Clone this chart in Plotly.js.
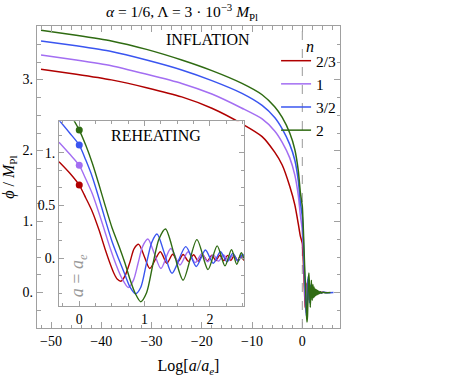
<!DOCTYPE html>
<html>
<head>
<meta charset="utf-8">
<script src="https://cdn.plot.ly/plotly-3.0.1.min.js"></script>
<style>html,body{margin:0;padding:0;background:#fff;}#chart{width:474px;height:387px;position:relative;}
.ylab{position:absolute;z-index:20;font-family:"Liberation Serif","Times New Roman",serif;font-size:14px;line-height:16px;height:16px;color:#000;white-space:nowrap;pointer-events:none;text-align:right;width:30px;}</style>
</head>
<body>
<div id="chart"></div>
<script>
// ---------- data ----------
const nLabels = ["2/3", "1", "3/2", "2"];

// inflation branch (main panel), Log[a/a_e] < 0
const infX      = [-52, -45, -38, -31, -24, -18, -12, -8, -5.5, -4, -2.5, -1.5, -0.8, -0.4];
const infRed    = [3.15, 3.08, 3.00, 2.89, 2.76, 2.60, 2.38, 2.20, 1.98, 1.80, 1.50, 1.24, 0.97, 0.80];
const infPurple = [3.35, 3.28, 3.20, 3.08, 2.95, 2.80, 2.60, 2.45, 2.28, 2.12, 1.90, 1.66, 1.37, 1.10];
const infBlue   = [3.55, 3.48, 3.40, 3.28, 3.14, 2.99, 2.81, 2.64, 2.47, 2.31, 2.09, 1.87, 1.58, 1.28];
const infGreen  = [3.70, 3.63, 3.55, 3.43, 3.28, 3.13, 2.95, 2.79, 2.62, 2.47, 2.25, 2.02, 1.72, 1.42];

// reheating branch (inset and main panel)
const rhRedX = [-0.31,-0.15,0,0.1,0.2,0.3,0.4,0.47,0.53,0.58,0.64,0.70,0.775,0.84,0.91,0.995,1.08,1.24,1.34,1.43,1.51,1.59,1.67,1.75,1.82,1.89,1.96,2.03,2.09,2.15,2.21,2.27,2.32,2.37,2.42,2.47,2.52,2.57,2.62,2.68,2.75,2.85,2.95,3.1,3.3,3.6,4.2];
const rhRedY = [0.915,0.81,0.693,0.57,0.44,0.27,0.076,-0.05,-0.145,-0.20,-0.22,-0.17,-0.04,0.09,0.13,0.015,-0.10,0.06,-0.05,0.035,-0.034,0.033,-0.032,0.031,-0.03,0.029,-0.028,0.027,-0.026,0.026,-0.025,0.025,-0.024,0.024,-0.023,0.023,-0.022,0.022,-0.02,0.019,-0.017,0.015,-0.012,0.01,-0.007,0.004,0];

const rhPurpleX = [-0.31,-0.15,0,0.1,0.2,0.3,0.4,0.48,0.555,0.65,0.75,0.83,0.90,0.97,1.05,1.15,1.25,1.40,1.54,1.665,1.775,1.875,1.965,2.05,2.13,2.21,2.28,2.35,2.42,2.48,2.54,2.6,2.66,2.72,2.8,2.9,3.0,3.2,3.5,4.0,5.0];
const rhPurpleY = [1.10,0.99,0.88,0.75,0.61,0.43,0.235,0.08,-0.05,-0.19,-0.28,-0.21,-0.05,0.11,0.18,0.04,-0.10,0.09,-0.066,0.06,-0.044,0.04,-0.035,0.032,-0.03,0.028,-0.026,0.025,-0.024,0.022,-0.02,0.02,-0.018,0.017,-0.015,0.013,-0.011,0.008,-0.005,0.003,0];

const rhBlueX = [-0.31,-0.15,0,0.1,0.2,0.3,0.4,0.5,0.61,0.7,0.78,0.86,0.94,1.025,1.11,1.19,1.305,1.42,1.63,1.79,1.93,2.05,2.16,2.26,2.35,2.43,2.50,2.57,2.64,2.71,2.78,2.85,2.93,3.0,3.15,3.3,3.5,3.8,4.2,4.8,6.2];
const rhBlueY = [1.31,1.19,1.073,0.93,0.77,0.57,0.36,0.16,-0.02,-0.16,-0.28,-0.34,-0.28,-0.06,0.15,0.228,0.04,-0.145,0.108,-0.08,0.076,-0.05,0.06,-0.035,0.044,-0.03,0.035,-0.025,0.03,-0.022,0.025,-0.02,0.02,-0.016,0.014,-0.011,0.009,-0.006,0.004,-0.002,0];

const rhGreenX = [-0.31,-0.15,0,0.1,0.2,0.3,0.4,0.5,0.61,0.7,0.78,0.86,0.94,1.03,1.13,1.22,1.32,1.455,1.59,1.80,1.97,2.11,2.23,2.33,2.41,2.48,2.55,2.62,2.68,2.75,2.81,2.88,2.95,3.05,3.15,3.3,3.45,3.6,3.8,4.1,4.6,5.6];
const rhGreenY = [1.55,1.38,1.215,1.07,0.90,0.70,0.49,0.29,0.11,-0.05,-0.21,-0.34,-0.415,-0.33,-0.05,0.18,0.275,0.03,-0.21,0.175,-0.11,0.115,-0.075,0.08,-0.06,0.05,-0.045,0.045,-0.04,0.04,-0.035,0.035,-0.03,0.03,-0.025,0.02,-0.015,0.012,-0.008,0.005,-0.003,0];

// tick labels
const mainXTicks = [-50, -40, -30, -20, -10, 0];
const mainXText  = ["\u221250", "\u221240", "\u221230", "\u221220", "\u221210", "0"];
const mainYTicks = [0, 1, 2, 3];
const mainYText  = ["0.", "1.", "2.", "3."];
const insetXTicks = [0, 1, 2];
const insetXText  = ["0", "1", "2"];
const insetYTicks = [0, 0.5, 1];
const insetYText  = ["0.", "0.5", "1."];

// ---------- styles ----------
const colors = ["#b00000", "#a36ef2", "#3a55f0", "#2f6b12"];
const FONT = "Liberation Serif, Times New Roman, DejaVu Serif, serif";
const FRAME = "#a0a0a0";

const infY = [infRed, infPurple, infBlue, infGreen];
const rhX = [rhRedX, rhPurpleX, rhBlueX, rhGreenX];
const rhY = [rhRedY, rhPurpleY, rhBlueY, rhGreenY];

const traces = [];
for (let i = 0; i < 4; i++) {
  const xs = infX.slice(), ys = infY[i].slice();
  rhX[i].forEach((x, k) => { if (x >= 0) { xs.push(x); ys.push(rhY[i][k]); } });
  traces.push({
    x: xs, y: ys, type: "scatter", mode: "lines", name: nLabels[i],
    line: {color: colors[i], width: 1.5, shape: "spline", smoothing: 0.6},
    xaxis: "x", yaxis: "y", showlegend: true
  });
}
for (let i = 0; i < 4; i++) {
  traces.push({
    x: rhX[i], y: rhY[i], type: "scatter", mode: "lines", name: nLabels[i],
    line: {color: colors[i], width: 1.4, shape: "spline", smoothing: 0.8},
    xaxis: "x2", yaxis: "y2", showlegend: false
  });
}
for (let i = 0; i < 4; i++) {
  const k = rhX[i].indexOf(0);
  traces.push({
    x: [rhX[i][k]], y: [rhY[i][k]], type: "scatter", mode: "markers", name: nLabels[i],
    marker: {color: colors[i], size: 7}, xaxis: "x2", yaxis: "y2", showlegend: false
  });
}

const axBase = {
  showline: true, linecolor: FRAME, linewidth: 1, mirror: "allticks",
  ticks: "inside", ticklen: 6, tickcolor: FRAME, tickwidth: 1,
  showgrid: false, zeroline: false, tickmode: "array",
  tickfont: {family: FONT, size: 14, color: "#000"}
};

const layout = {
  width: 474, height: 387,
  margin: {l: 37, r: 134, t: 26, b: 59},
  paper_bgcolor: "#fff", plot_bgcolor: "#fff",
  font: {family: FONT, color: "#000"},
  title: {
    text: "<i>\u03b1</i> = 1/6, \u039b = 3 \u00b7 10<sup>\u22123</sup> <i>M</i><sub>Pl</sub>",
    font: {family: FONT, size: 15.5, color: "#000"},
    x: 0.384, xref: "container", xanchor: "center",
    y: 0.969, yref: "container", yanchor: "middle"
  },
  xaxis: Object.assign({}, axBase, {
    domain: [0, 1], range: [-52.8, 7.5], anchor: "y",
    tickvals: mainXTicks, ticktext: mainXText,
    minor: {tickmode: "linear", tick0: 0, dtick: 2, ticks: "inside", ticklen: 3.5, tickcolor: FRAME},
    title: {text: "Log[<i>a</i>/<i>a</i><sub><i>e</i></sub>]", font: {family: FONT, size: 16, color: "#000"}, standoff: 12}
  }),
  yaxis: Object.assign({}, axBase, {
    domain: [0, 1], range: [-0.50, 3.76], anchor: "x",
    tickvals: mainYTicks, ticktext: mainYText, showticklabels: false,
    minor: {tickmode: "linear", tick0: 0, dtick: 0.25, ticks: "inside", ticklen: 3.5, tickcolor: FRAME},
    title: {text: "<i>\u03d5</i> / <i>M</i><sub>Pl</sub>", font: {family: FONT, size: 16, color: "#000"}, standoff: 20}
  }),
  xaxis2: Object.assign({}, axBase, {
    domain: [0.0726, 0.683], range: [-0.31, 2.52], anchor: "y2",
    tickvals: insetXTicks, ticktext: insetXText, ticklen: 5,
    minor: {tickmode: "linear", tick0: 0, dtick: 0.25, ticks: "inside", ticklen: 3, tickcolor: FRAME}
  }),
  yaxis2: Object.assign({}, axBase, {
    domain: [0.0728, 0.685], range: [-0.456, 1.30], anchor: "x2",
    tickvals: insetYTicks, ticktext: insetYText, ticklen: 5,
    minor: {tickmode: "linear", tick0: 0, dtick: 0.5 / 3, ticks: "inside", ticklen: 3, tickcolor: FRAME}
  }),
  showlegend: true,
  legend: {
    x: 0.789, xref: "paper", xanchor: "left",
    y: 0.94, yref: "paper", yanchor: "top",
    bgcolor: "rgba(0,0,0,0)", borderwidth: 0,
    font: {family: FONT, size: 15.5, color: "#000"},
    tracegroupgap: 0
  },
  shapes: [
    {type: "line", xref: "x", yref: "paper", x0: 0, x1: 0, y0: 0, y1: 1,
     line: {color: "#999", width: 1, dash: "dash"}, layer: "below"},
    {type: "line", xref: "x2", yref: "y2 domain", x0: 0, x1: 0, y0: 0, y1: 1,
     line: {color: "#999", width: 1, dash: "dash"}, layer: "below"}
  ],
  annotations: [
    {text: "<i>n</i>", x: (316 - 37) / 303, y: (328 - 36) / 302, xref: "paper", yref: "paper", showarrow: false,
     font: {family: FONT, size: 16, color: "#000"}},
    {text: "INFLATION", x: -18.85, y: 3.57, xref: "x", yref: "y", showarrow: false,
     font: {family: FONT, size: 16, color: "#000"}},
    {text: "REHEATING", x: 1.17, y: 1.16, xref: "x2", yref: "y2", showarrow: false,
     font: {family: FONT, size: 16, color: "#000"}},
    {text: "<i>a</i> = <i>a</i><sub><i>e</i></sub>", x: 0, y: -0.17, xref: "x2", yref: "y2",
     showarrow: false, textangle: -90, bgcolor: "#fff",
     font: {family: FONT, size: 18, color: "#999"}}
  ]
};

const gd = document.getElementById("chart");
Plotly.newPlot(gd, traces, layout, {displayModeBar: false, staticPlot: true}).then(() => {
  // main y tick labels, placed through the axis' own scale
  const ya = gd._fullLayout.yaxis;
  const xa = gd._fullLayout.xaxis;
  mainYTicks.forEach((v, i) => {
    const py = ya._offset + ya.l2p(v);
    const d = document.createElement("div");
    d.className = "ylab";
    d.textContent = mainYText[i];
    d.style.left = (xa._offset - 4 - 30) + "px";
    d.style.top = (py - 8) + "px";
    gd.appendChild(d);
  });
});
</script>
</body>
</html>
